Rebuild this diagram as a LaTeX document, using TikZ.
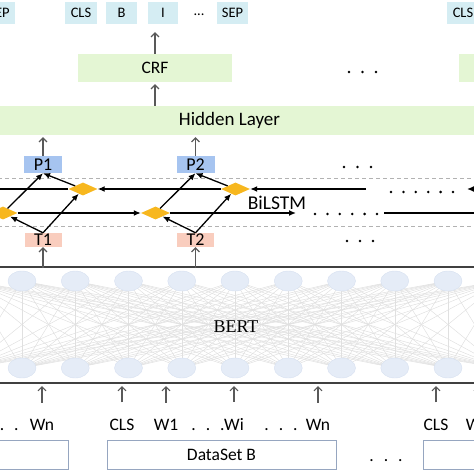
\documentclass[tikz,border=0pt]{standalone}
\usepackage{fontspec}
\setmainfont{Carlito}
\newfontfamily\bertfont{Liberation Serif}
\usepackage{xcolor}
\usepackage{tikz}
\usetikzlibrary{arrows.meta,calc,positioning,backgrounds,shapes.geometric}
\definecolor{tagcyan}{RGB}{213,237,243}
\definecolor{lgreen}{RGB}{228,246,212}
\definecolor{pblue}{RGB}{166,196,240}
\definecolor{tsalmon}{RGB}{249,205,190}
\definecolor{dorange}{RGB}{247,183,30}
\definecolor{nfill}{RGB}{229,236,247}
\definecolor{nedge}{RGB}{214,224,240}
\definecolor{dsframe}{RGB}{150,166,192}

\begin{document}
\begin{tikzpicture}[x=1pt,y=-1pt,
  tagbox/.style={fill=tagcyan,minimum height=22pt,inner sep=0pt,font=\fontsize{14.5}{16}\selectfont},
  greenbox/.style={fill=lgreen,inner sep=0pt,font=\fontsize{19}{22}\selectfont},
  pbox/.style={fill=pblue,minimum width=38pt,minimum height=17pt,inner sep=0pt,font=\fontsize{18}{20}\selectfont},
  tbox/.style={fill=tsalmon,minimum width=37pt,minimum height=14pt,inner sep=0pt,font=\fontsize{18}{20}\selectfont},
  lstmcell/.style={diamond,fill=dorange,minimum width=29pt,minimum height=13pt,inner sep=0pt},
  neuron/.style={ellipse,fill=nfill,draw=nedge,minimum width=28pt,minimum height=20pt,inner sep=0pt},
  word/.style={anchor=base,inner sep=1pt,font=\fontsize{17.5}{20}\selectfont},
  dsbox/.style={draw=dsframe,line width=1pt,fill=white,minimum height=29pt,inner sep=0pt,font=\fontsize{17.5}{20}\selectfont},
  uparr/.style={-{Straight Barb[length=4pt,width=8pt]},gray!70!black,line width=1.1pt},
  lstm/.style={-{Latex[length=7pt,width=6pt]},line width=1.3pt},
  dashline/.style={gray!60,line width=1pt,dash pattern=on 4pt off 3pt}]

\useasboundingbox (0,0) rectangle (474,474);
\coordinate (lft) at (-2,0);
\coordinate (rgt) at (476,0);

% label row on top
\def\tags{-1/32/SEP, 81/32/CLS, 121.5/31/B, 163/30/I, 232.5/31/SEP, 463/32/CLS}
\foreach \x/\w/\t [count=\ni] in \tags
  \node[tagbox,minimum width=\w] (tag\ni) at (\x,13) {\t};
\node[font=\fontsize{14.5}{16}\selectfont] (tagdots) at (199,15) {...};

% crf and hidden layer
\node[greenbox,minimum width=154pt,minimum height=28pt,font=\fontsize{17.5}{20}\selectfont] (crf) at (155,68) {CRF};
\node[greenbox,minimum width=154pt,minimum height=28pt] (crfB) at (536,68) {};
\node[greenbox,minimum width=500pt,minimum height=29pt] (hidden) at (229.5,120.5) {Hidden Layer};
\draw[uparr,shorten >=2pt] (hidden.north -| crf.north) -- (crf.south);
\draw[uparr,shorten >=8pt] (crf.north) -- (crf.north |- tag4.south);

% the two dashed borders of the bilstm
\draw[dashline] (-2,178) -- (476,178);
\draw[dashline] (-2,226) -- (476,226);

% P, T boxes and lstm cells
\foreach \ni in {1,2} {
  \pgfmathsetmacro\cx{43+152.5*(\ni-1)}
  \node[pbox] (P\ni) at (\cx,164.5) {P\ni};
  \node[tbox] (T\ni) at (\cx,240) {T\ni};
  \node[lstmcell] (fw\ni) at (\cx-40,213) {};
  \node[lstmcell] (bw\ni) at (\cx+40,189) {};
  \draw[uparr,shorten >=2pt] (P\ni.north) -- (P\ni.north |- hidden.south);
  \draw[lstm] (T\ni.north) -- (fw\ni);
  \draw[lstm] (T\ni.north) -- (bw\ni);
  \draw[lstm] (fw\ni) -- (P\ni.south);
  \draw[lstm] (bw\ni) -- (P\ni.south);
}

% forward and backward chains
\coordinate (bwIn) at (366,189);
\coordinate (bwFar) at (467,189);
\coordinate (fwOut) at (296,213);
\coordinate (fwFar) at (384,213);
\draw[line width=1.3pt] (bw1.west) -- (bw1.west -| lft);
\draw[lstm] (bw2.west) -- (bw1.east);
\draw[lstm] (bwIn) -- (bw2.east);
\draw[lstm] (bwFar -| rgt) -- (bwFar);
\draw[lstm] (fw1.east) -- (fw2.west);
\draw[lstm] (fw2.east) -- (fwOut);
\draw[line width=1.3pt] (fwFar) -- (fwFar -| rgt);
\node[font=\fontsize{19.5}{22}\selectfont] (bilstm) at (277,202.5) {BiLSTM};

% the dot rows
\def\dotrows{349/72/3/13.5, 344/167/3/13.5, 347/241/3/13, 391/192/6/12.4, 315/214/6/12.4}
\foreach \x/\y/\n/\s in \dotrows
  \foreach \k in {1,...,\n}
    \fill ({\x+\s*(\k-1)},\y) circle [radius=1.4];

% BERT block
\draw[line width=1.5pt,black!75] (-2,267) -- (476,267);
\draw[line width=1.5pt,black!75] (-2,383) -- (476,383);
\foreach \i in {0,...,10} {
  \node[neuron] (nt\i) at ({22+53.25*(\i-1)},281) {};
  \node[neuron] (nb\i) at ({22+53.25*(\i-1)},368) {};
}
\begin{scope}[on background layer]
\foreach \i in {0,...,10}
  \foreach \j in {0,...,10}
    \draw[black!12,line width=0.5pt] (nt\i.center) -- (nb\j.center);
\end{scope}
\node[font=\bertfont\fontsize{18}{20}\selectfont] (bert) at (236,327) {BERT};
\coordinate (berttop) at (0,268);
\coordinate (bertbot) at (0,383);
\foreach \ni in {1,2}
  \draw[uparr] (T\ni.south |- berttop) -- (T\ni.south);

% input words
\def\gap{\hspace{10pt}}
\def\words{42/Wn, 122/CLS, 166/W1, 234/Wi, 318/Wn, 436/CLS, 478/W1}
\foreach \x/\w [count=\ni] in \words {
  \node[word] (w\ni) at (\x,430) {\w};
  \draw[uparr,shorten <=15pt,shorten >=3pt] (w\ni.north) -- (w\ni.north |- bertbot);
}
\foreach \x [count=\ni] in {2,208,281}
  \node[word] (wdots\ni) at (\x,430) {.\gap.\gap.};

% datasets
\node[dsbox,minimum width=168pt] (dsA) at (-16,454.5) {};
\node[dsbox,minimum width=229pt] (dsB) at (221.5,454.5) {DataSet B};
\node[dsbox,minimum width=229pt] (dsC) at (537.5,454.5) {};
\node[word] (dsdots) at (386,461) {.\gap.\gap.};
\end{tikzpicture}
\end{document}
